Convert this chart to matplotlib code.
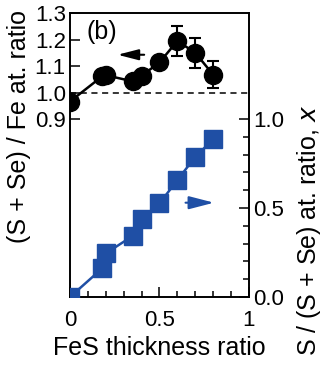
import matplotlib.pyplot as plt
from matplotlib.ticker import MultipleLocator, FixedLocator

plt.rcParams['font.family'] = ['Liberation Sans', 'DejaVu Sans']
plt.rcParams['font.size'] = 18

# FeS thickness ratio
fes = [0, 0.18, 0.2, 0.35, 0.4, 0.5, 0.6, 0.7, 0.8]
# (S + Se) / Fe ratio, left axis
s_se_fe = [0.967, 1.062, 1.066, 1.043, 1.064, 1.114, 1.195, 1.15, 1.068]
s_se_fe_err = [0, 0, 0, 0, 0, 0, 0.055, 0.056, 0.05]
# S / (S + Se) ratio, right axis
s_frac = [0.0, 0.161, 0.245, 0.343, 0.44, 0.526, 0.657, 0.788, 0.886]

blue = '#1f4fa5'

fig = plt.figure(figsize=(3.24, 3.66), dpi=100)
ax1 = fig.add_axes([0.216, 0.1885, 0.5525, 0.776])
ax2 = ax1.twinx()

ax2.plot(fes, s_frac, '-s', color=blue, lw=1.8, ms=12.5, mec=blue, zorder=3)
ax1.errorbar(fes, s_se_fe, yerr=s_se_fe_err, fmt='-o', color='black', lw=1.8,
             ms=13, elinewidth=1.5, capsize=4.5, capthick=1.5, zorder=3)
ax1.axhline(1.0, color='black', lw=1.1, ls=(0, (4, 3)), zorder=1)

ax1.set_xlim(0, 1)
ax1.set_ylim(0.232, 1.3)
ax2.set_ylim(0, 1.596)

ax1.yaxis.set_major_locator(FixedLocator([0.9, 1.0, 1.1, 1.2, 1.3]))
ax1.set_yticklabels(['0.9', '1.0', '1.1', '1.2', '1.3'])
ax1.xaxis.set_major_locator(FixedLocator([0, 0.5, 1]))
ax1.set_xticklabels(['0', '0.5', '1'])
ax1.xaxis.set_minor_locator(MultipleLocator(0.1))
ax2.yaxis.set_major_locator(FixedLocator([0, 0.5, 1.0]))
ax2.set_yticklabels(['0.0', '0.5', '1.0'])
ax2.yaxis.set_minor_locator(FixedLocator([0.1, 0.2, 0.3, 0.4, 0.6, 0.7, 0.8, 0.9]))

ax1.tick_params(axis='y', direction='in', length=7, width=1.1, pad=3, labelsize=16)
ax1.tick_params(axis='x', which='major', direction='in', length=7, width=1.1, pad=9, labelsize=16)
ax1.tick_params(axis='x', which='minor', direction='in', length=4, width=1.1)
ax2.tick_params(axis='y', which='major', direction='in', length=7, width=1.1, pad=3, labelsize=16)
ax2.tick_params(axis='y', which='minor', direction='in', length=4, width=1.1)

for ax in (ax1, ax2):
    for sp in ax.spines.values():
        sp.set_linewidth(1.2)

ax1.set_xlabel('FeS thickness ratio', labelpad=4)
ax1.set_ylabel('(S + Se) / Fe at. ratio')
ax1.yaxis.set_label_coords(-0.22, 0.6)
ax2.set_ylabel('S / (S + Se) at. ratio, $\\it{x}$')
ax2.yaxis.set_label_coords(1.255, 0.235)

ax1.text(0.095, 1.229, '(b)', va='center', ha='left')

ax1.annotate('', xy=(0.25, 1.143), xytext=(0.43, 1.143),
             arrowprops=dict(arrowstyle='-|>,head_length=0.7,head_width=0.18',
                             color='black', lw=1.5))
ax2.annotate('', xy=(0.82, 0.53), xytext=(0.63, 0.53),
             arrowprops=dict(arrowstyle='-|>,head_length=0.85,head_width=0.22',
                             color=blue, lw=1.5))

fig.savefig('out.png', dpi=100)
